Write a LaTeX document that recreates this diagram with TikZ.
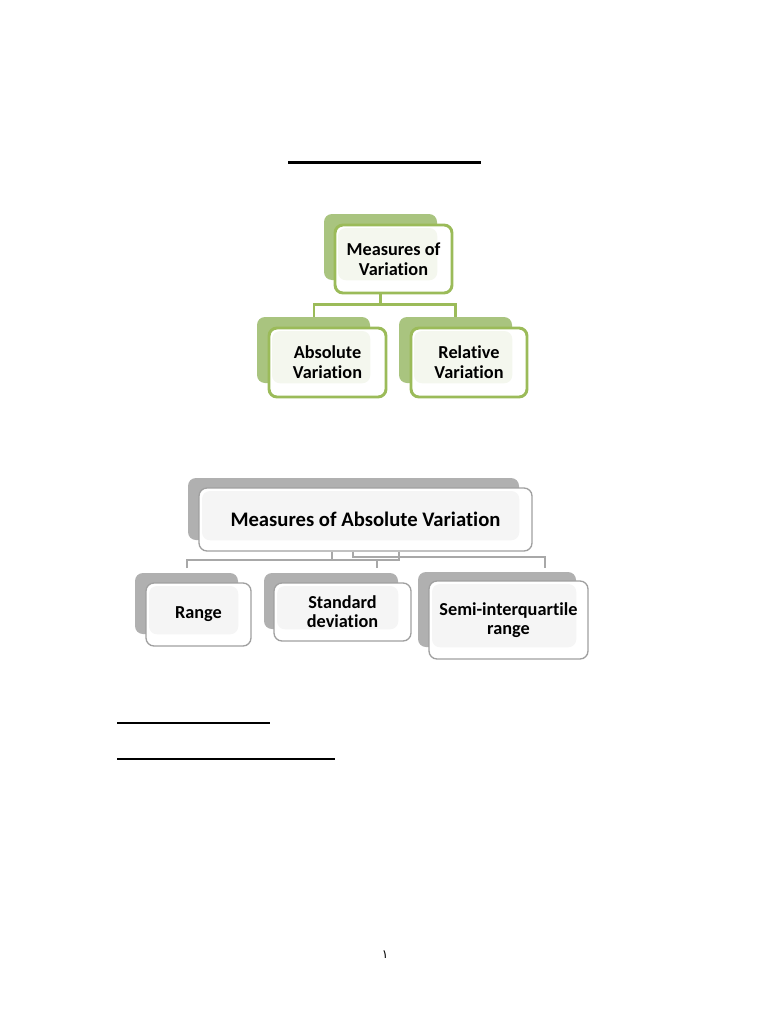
\documentclass[tikz,border=0pt]{standalone}
\usepackage{fontspec}
\setmainfont{Carlito}[Ligatures=NoCommon]
\newfontfamily\arabicfont[Script=Arabic]{DejaVu Sans}
\TeXXeTstate=1
\definecolor{gborder}{HTML}{9BBB59}
\definecolor{gshadow}{HTML}{A9C47F}
\definecolor{gin}{HTML}{F4F7EE}
\definecolor{kborder}{HTML}{A0A0A0}
\definecolor{kshadow}{HTML}{B0B0B0}
\definecolor{kin}{HTML}{F5F5F5}
\definecolor{kline}{HTML}{A8A8A8}
\tikzset{
  gsh/.style={fill=gshadow, draw=none, rounded corners=6pt, inner sep=0pt},
  gfr/.style={fill=white, draw=gborder, line width=2.2pt, rounded corners=6pt, inner sep=0pt, align=center, font=\fontsize{13.7}{15}\selectfont\bfseries},
  gconn/.style={draw=gborder, line width=1.9pt},
  ksh/.style={fill=kshadow, draw=none, rounded corners=6pt, inner sep=0pt},
  kfr/.style={fill=white, draw=kborder, line width=1pt, rounded corners=6pt, inner sep=0pt, align=center, font=\fontsize{13.7}{14.3}\selectfont\bfseries},
  kconn/.style={draw=kline, line width=0.8pt},
  rule/.style={draw=black, line width=2pt},
  ginner/.style={path picture={\fill[gin] ([shift={(3,3)}]path picture bounding box.north west) rectangle (#1.south east);}},
  kinner/.style={path picture={\fill[kin] ([shift={(3,3)}]path picture bounding box.north west) rectangle (#1.south east);}},
}
\begin{document}
\begin{tikzpicture}[x=0.75pt,y=-0.75pt]
\path[use as bounding box, fill=white] (0,0) rectangle (768,1024);

% title rule
\coordinate (t1) at (288,162.5);
\coordinate (t2) at (481,162.5);
\draw[rule, line width=2.2pt] (t1) -- (t2);

% ---- top diagram (green)
\node[gsh, minimum width=84.75pt, minimum height=49.5pt] (sA) at (380.5,247) {};
\node[gfr, ginner=sA, minimum width=87.75pt, minimum height=51pt] (fA) at (393.5,259) {Measures of\\Variation};

\node[gsh, minimum width=84.75pt, minimum height=49.5pt] (sB) at (313.5,350) {};
\node[gfr, ginner=sB, minimum width=87.75pt, minimum height=51.75pt] (fB) at (327.5,362.5) {Absolute\\Variation};

\node[gsh, minimum width=84.75pt, minimum height=49.5pt] (sC) at (455.5,350) {};
\node[gfr, ginner=sC, minimum width=87pt, minimum height=51.75pt] (fC) at (469,362.5) {Relative\\Variation};

\coordinate (gj) at (380.5,304.5);
\draw[gconn] (fA.south -| gj) -- (gj);
\draw[gconn] (sB.north -| 314,0) -- (314,304.5) -- (455.5,304.5) -- (sC.north -| 455.5,0);

% ---- bottom diagram (grey)
\node[ksh, minimum width=248.25pt, minimum height=46.5pt] (sD) at (353.5,509) {};
\node[kfr, kinner=sD, minimum width=249.75pt, minimum height=47.25pt, font=\fontsize{15.5}{17}\selectfont\bfseries] (fD) at (365.5,519.5) {Measures of Absolute Variation};

\node[ksh, minimum width=77.25pt, minimum height=45.75pt] (sE) at (186.5,603.5) {};
\node[kfr, kinner=sE, minimum width=78.75pt, minimum height=47.25pt] (fE) at (198.5,614.5) {Range};

\node[ksh, minimum width=100.5pt, minimum height=42pt] (sF) at (331,601) {};
\node[kfr, kinner=sF, minimum width=102.75pt, minimum height=43.5pt] (fF) at (342.5,612) {Standard\\deviation};

\node[ksh, minimum width=118.5pt, minimum height=56.25pt] (sG) at (497,609.5) {};
\node[kfr, kinner=sG, minimum width=119.25pt, minimum height=58.5pt] (fG) at (508.5,620) {Semi-interquartile\\range};

\draw[kconn] (fD.south -| 332,0) -- (332,560);
\draw[kconn] (187,568) -- (187,560) -- (399,560) -- (fD.south -| 399,0);
\draw[kconn] (377,560) -- (377,567.5);
\draw[kconn] (fD.south -| 353,0) -- (353,557) -- (545,557) -- (545,567.5);

% lower rules
\coordinate (u1) at (117,723);
\coordinate (u2) at (270,723);
\coordinate (v1) at (117,759);
\coordinate (v2) at (335,759);
\draw[rule, line width=1.6pt] (u1) -- (u2);
\draw[rule, line width=1.6pt] (v1) -- (v2);

% page number
\node[inner sep=0pt, font=\arabicfont\fontsize{9}{10}\selectfont] (pg) at (385,955) {\beginR ١\endR};
\end{tikzpicture}
\end{document}
